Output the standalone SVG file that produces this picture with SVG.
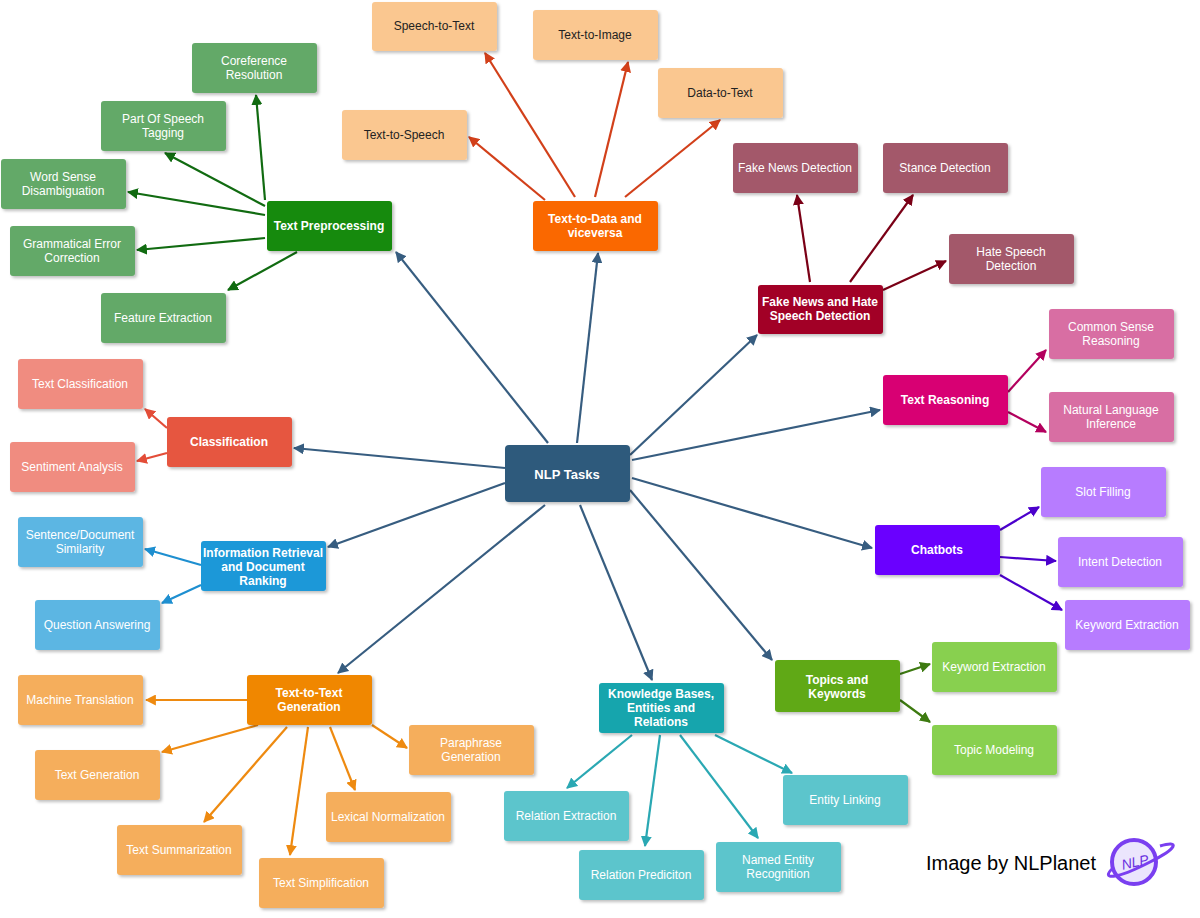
<svg xmlns="http://www.w3.org/2000/svg" width="1200" height="918" viewBox="0 0 1200 918">
<style>
text{font-family:"Liberation Sans",Arial,sans-serif;fill:#fff;text-anchor:middle}
.m{font-size:12px;font-weight:bold}
.l{font-size:12px}
rect{filter:url(#sh)}
line{stroke-width:2.2}
</style>
<defs>
<filter id="sh" x="-10%" y="-10%" width="130%" height="140%"><feDropShadow dx="2" dy="2" stdDeviation="1.5" flood-color="#000" flood-opacity="0.25"/></filter>
<marker id="a0" viewBox="0 0 10 10" refX="9" refY="5" markerWidth="5" markerHeight="5" orient="auto"><path d="M0,0L10,5L0,10z" fill="#375d80"/></marker>
<marker id="a1" viewBox="0 0 10 10" refX="9" refY="5" markerWidth="5" markerHeight="5" orient="auto"><path d="M0,0L10,5L0,10z" fill="#116b11"/></marker>
<marker id="a2" viewBox="0 0 10 10" refX="9" refY="5" markerWidth="5" markerHeight="5" orient="auto"><path d="M0,0L10,5L0,10z" fill="#d2401a"/></marker>
<marker id="a3" viewBox="0 0 10 10" refX="9" refY="5" markerWidth="5" markerHeight="5" orient="auto"><path d="M0,0L10,5L0,10z" fill="#7a0016"/></marker>
<marker id="a4" viewBox="0 0 10 10" refX="9" refY="5" markerWidth="5" markerHeight="5" orient="auto"><path d="M0,0L10,5L0,10z" fill="#b3005e"/></marker>
<marker id="a5" viewBox="0 0 10 10" refX="9" refY="5" markerWidth="5" markerHeight="5" orient="auto"><path d="M0,0L10,5L0,10z" fill="#4b00cc"/></marker>
<marker id="a6" viewBox="0 0 10 10" refX="9" refY="5" markerWidth="5" markerHeight="5" orient="auto"><path d="M0,0L10,5L0,10z" fill="#3d7a10"/></marker>
<marker id="a7" viewBox="0 0 10 10" refX="9" refY="5" markerWidth="5" markerHeight="5" orient="auto"><path d="M0,0L10,5L0,10z" fill="#2aa8b3"/></marker>
<marker id="a8" viewBox="0 0 10 10" refX="9" refY="5" markerWidth="5" markerHeight="5" orient="auto"><path d="M0,0L10,5L0,10z" fill="#ee8a10"/></marker>
<marker id="a9" viewBox="0 0 10 10" refX="9" refY="5" markerWidth="5" markerHeight="5" orient="auto"><path d="M0,0L10,5L0,10z" fill="#1e8fd0"/></marker>
<marker id="a10" viewBox="0 0 10 10" refX="9" refY="5" markerWidth="5" markerHeight="5" orient="auto"><path d="M0,0L10,5L0,10z" fill="#e34d38"/></marker>
</defs>
<rect width="1200" height="918" fill="#fff" style="filter:none"/>
<g id="connectors">
<g stroke="#375d80" marker-end="url(#a0)">
<line x1="548" y1="443" x2="396" y2="252"/><line x1="577" y1="443" x2="598" y2="253"/><line x1="630" y1="455" x2="757" y2="335"/><line x1="632" y1="460" x2="880" y2="410"/><line x1="632" y1="478" x2="872" y2="548"/><line x1="630" y1="490" x2="772" y2="660"/><line x1="580" y1="505" x2="652" y2="680"/><line x1="545" y1="505" x2="338" y2="673"/><line x1="505" y1="483" x2="328" y2="547"/><line x1="505" y1="468" x2="294" y2="448"/>
</g>
<g stroke="#116b11" marker-end="url(#a1)">
<line x1="265" y1="200" x2="256" y2="95"/><line x1="265" y1="206" x2="165" y2="153"/><line x1="265" y1="215" x2="128" y2="192"/><line x1="265" y1="238" x2="137" y2="250"/><line x1="297" y1="252" x2="228" y2="290"/>
</g>
<g stroke="#d2401a" marker-end="url(#a2)">
<line x1="575" y1="197" x2="485" y2="53"/><line x1="595" y1="197" x2="628" y2="62"/><line x1="625" y1="197" x2="720" y2="120"/><line x1="545" y1="200" x2="469" y2="137"/>
</g>
<g stroke="#7a0016" marker-end="url(#a3)">
<line x1="810" y1="282" x2="797" y2="195"/><line x1="850" y1="282" x2="913" y2="195"/><line x1="883" y1="290" x2="946" y2="261"/>
</g>
<g stroke="#b3005e" marker-end="url(#a4)">
<line x1="1008" y1="392" x2="1046" y2="350"/><line x1="1008" y1="412" x2="1046" y2="432"/>
</g>
<g stroke="#4b00cc" marker-end="url(#a5)">
<line x1="1000" y1="530" x2="1039" y2="507"/><line x1="1000" y1="557" x2="1056" y2="561"/><line x1="1000" y1="575" x2="1062" y2="610"/>
</g>
<g stroke="#3d7a10" marker-end="url(#a6)">
<line x1="900" y1="674" x2="930" y2="664"/><line x1="900" y1="700" x2="930" y2="722"/>
</g>
<g stroke="#2aa8b3" marker-end="url(#a7)">
<line x1="632" y1="735" x2="567" y2="788"/><line x1="660" y1="735" x2="645" y2="846"/><line x1="680" y1="735" x2="758" y2="838"/><line x1="715" y1="735" x2="792" y2="773"/>
</g>
<g stroke="#ee8a10" marker-end="url(#a8)">
<line x1="247" y1="700" x2="146" y2="700"/><line x1="258" y1="725" x2="162" y2="752"/><line x1="287" y1="727" x2="204" y2="822"/><line x1="308" y1="727" x2="290" y2="855"/><line x1="330" y1="727" x2="355" y2="790"/><line x1="372" y1="725" x2="407" y2="748"/>
</g>
<g stroke="#1e8fd0" marker-end="url(#a9)">
<line x1="201" y1="565" x2="145" y2="549"/><line x1="201" y1="585" x2="162" y2="603"/>
</g>
<g stroke="#e34d38" marker-end="url(#a10)">
<line x1="167" y1="428" x2="145" y2="409"/><line x1="167" y1="453" x2="137" y2="461"/>
</g>
</g>
<g id="nlp-tasks"><rect x="505" y="445" width="125" height="57" rx="4" fill="#2e5a7c"/><text class="m" x="567" y="479" style="font-size:13px">NLP Tasks</text></g>
<g id="text-preprocessing"><rect x="267" y="201" width="125" height="50" rx="3" fill="#138a07"/><text class="m" x="329" y="230">Text Preprocessing</text></g>
<g id="text-to-data"><rect x="533" y="201" width="125" height="50" rx="3" fill="#fa6800"/><text class="m" x="595" y="223">Text-to-Data and</text><text class="m" x="595" y="237">viceversa</text></g>
<g id="fake-news"><rect x="758" y="285" width="125" height="49" rx="3" fill="#a20025"/><text class="m" x="820" y="306">Fake News and Hate</text><text class="m" x="820" y="320">Speech Detection</text></g>
<g id="text-reasoning"><rect x="883" y="375" width="125" height="50" rx="3" fill="#d80073"/><text class="m" x="945" y="404">Text Reasoning</text></g>
<g id="chatbots"><rect x="875" y="525" width="125" height="50" rx="3" fill="#6a00ff"/><text class="m" x="937" y="554">Chatbots</text></g>
<g id="topics"><rect x="775" y="660" width="125" height="52" rx="3" fill="#60a917"/><text class="m" x="837" y="684">Topics and</text><text class="m" x="837" y="698">Keywords</text></g>
<g id="knowledge-bases"><rect x="599" y="683" width="125" height="50" rx="3" fill="#15a5ad"/><text class="m" x="661" y="698">Knowledge Bases,</text><text class="m" x="661" y="712">Entities and</text><text class="m" x="661" y="726">Relations</text></g>
<g id="text-to-text"><rect x="247" y="675" width="125" height="50" rx="3" fill="#f08705"/><text class="m" x="309" y="697">Text-to-Text</text><text class="m" x="309" y="711">Generation</text></g>
<g id="information-retrieval"><rect x="201" y="541" width="125" height="50" rx="3" fill="#1b98d8"/><text class="m" x="263" y="557">Information Retrieval</text><text class="m" x="263" y="571">and Document</text><text class="m" x="263" y="585">Ranking</text></g>
<g id="classification"><rect x="167" y="417" width="125" height="50" rx="3" fill="#e6563f"/><text class="m" x="229" y="446">Classification</text></g>

<g id="coreference"><rect x="192" y="43" width="125" height="50" rx="3" fill="#64a968"/><text class="l" x="254" y="65">Coreference</text><text class="l" x="254" y="79">Resolution</text></g>
<g id="pos"><rect x="101" y="101" width="125" height="50" rx="3" fill="#64a968"/><text class="l" x="163" y="123">Part Of Speech</text><text class="l" x="163" y="137">Tagging</text></g>
<g id="wsd"><rect x="1" y="159" width="125" height="50" rx="3" fill="#64a968"/><text class="l" x="63" y="181">Word Sense</text><text class="l" x="63" y="195">Disambiguation</text></g>
<g id="gec"><rect x="10" y="226" width="125" height="50" rx="3" fill="#64a968"/><text class="l" x="72" y="248">Grammatical Error</text><text class="l" x="72" y="262">Correction</text></g>
<g id="feature-extraction"><rect x="101" y="293" width="125" height="50" rx="3" fill="#64a968"/><text class="l" x="163" y="322">Feature Extraction</text></g>

<g id="speech-to-text"><rect x="372" y="2" width="125" height="49" rx="3" fill="#fac790"/><text class="l" x="434" y="30" style="fill:#222">Speech-to-Text</text></g>
<g id="text-to-image"><rect x="533" y="10" width="125" height="50" rx="3" fill="#fac790"/><text class="l" x="595" y="39" style="fill:#222">Text-to-Image</text></g>
<g id="data-to-text"><rect x="658" y="68" width="125" height="50" rx="3" fill="#fac790"/><text class="l" x="720" y="97" style="fill:#222">Data-to-Text</text></g>
<g id="text-to-speech"><rect x="342" y="110" width="125" height="50" rx="3" fill="#fac790"/><text class="l" x="404" y="139" style="fill:#222">Text-to-Speech</text></g>

<g id="fake-news-detection"><rect x="733" y="143" width="125" height="50" rx="3" fill="#a3596a"/><text class="l" x="795" y="172">Fake News Detection</text></g>
<g id="stance-detection"><rect x="883" y="143" width="125" height="50" rx="3" fill="#a3596a"/><text class="l" x="945" y="172">Stance Detection</text></g>
<g id="hate-speech"><rect x="949" y="234" width="125" height="50" rx="3" fill="#a3596a"/><text class="l" x="1011" y="256">Hate Speech</text><text class="l" x="1011" y="270">Detection</text></g>

<g id="common-sense"><rect x="1049" y="309" width="125" height="50" rx="3" fill="#d86ea3"/><text class="l" x="1111" y="331">Common Sense</text><text class="l" x="1111" y="345">Reasoning</text></g>
<g id="nli"><rect x="1049" y="392" width="125" height="50" rx="3" fill="#d86ea3"/><text class="l" x="1111" y="414">Natural Language</text><text class="l" x="1111" y="428">Inference</text></g>

<g id="slot-filling"><rect x="1041" y="467" width="125" height="50" rx="3" fill="#b77bff"/><text class="l" x="1103" y="496">Slot Filling</text></g>
<g id="intent-detection"><rect x="1058" y="537" width="125" height="50" rx="3" fill="#b77bff"/><text class="l" x="1120" y="566">Intent Detection</text></g>
<g id="keyword-extraction-chat"><rect x="1065" y="600" width="125" height="50" rx="3" fill="#b77bff"/><text class="l" x="1127" y="629">Keyword Extraction</text></g>

<g id="keyword-extraction"><rect x="932" y="642" width="125" height="50" rx="3" fill="#88d050"/><text class="l" x="994" y="671">Keyword Extraction</text></g>
<g id="topic-modeling"><rect x="932" y="725" width="125" height="50" rx="3" fill="#88d050"/><text class="l" x="994" y="754">Topic Modeling</text></g>

<g id="relation-extraction"><rect x="504" y="791" width="125" height="50" rx="3" fill="#5cc5cc"/><text class="l" x="566" y="820">Relation Extraction</text></g>
<g id="relation-prediction"><rect x="579" y="850" width="125" height="50" rx="3" fill="#5cc5cc"/><text class="l" x="641" y="879">Relation Prediciton</text></g>
<g id="ner"><rect x="716" y="842" width="125" height="50" rx="3" fill="#5cc5cc"/><text class="l" x="778" y="864">Named Entity</text><text class="l" x="778" y="878">Recognition</text></g>
<g id="entity-linking"><rect x="783" y="775" width="125" height="50" rx="3" fill="#5cc5cc"/><text class="l" x="845" y="804">Entity Linking</text></g>

<g id="machine-translation"><rect x="18" y="675" width="125" height="50" rx="3" fill="#f5ae5c"/><text class="l" x="80" y="704">Machine Translation</text></g>
<g id="text-generation"><rect x="35" y="750" width="125" height="50" rx="3" fill="#f5ae5c"/><text class="l" x="97" y="779">Text Generation</text></g>
<g id="text-summarization"><rect x="117" y="825" width="125" height="50" rx="3" fill="#f5ae5c"/><text class="l" x="179" y="854">Text Summarization</text></g>
<g id="text-simplification"><rect x="259" y="858" width="125" height="50" rx="3" fill="#f5ae5c"/><text class="l" x="321" y="887">Text Simplification</text></g>
<g id="lexical-normalization"><rect x="326" y="792" width="125" height="50" rx="3" fill="#f5ae5c"/><text class="l" x="388" y="821">Lexical Normalization</text></g>
<g id="paraphrase-generation"><rect x="409" y="725" width="125" height="50" rx="3" fill="#f5ae5c"/><text class="l" x="471" y="747">Paraphrase</text><text class="l" x="471" y="761">Generation</text></g>

<g id="sentence-similarity"><rect x="18" y="517" width="125" height="50" rx="3" fill="#5cb6e3"/><text class="l" x="80" y="539">Sentence/Document</text><text class="l" x="80" y="553">Similarity</text></g>
<g id="question-answering"><rect x="35" y="600" width="125" height="50" rx="3" fill="#5cb6e3"/><text class="l" x="97" y="629">Question Answering</text></g>

<g id="text-classification"><rect x="18" y="359" width="125" height="50" rx="3" fill="#f08c80"/><text class="l" x="80" y="388">Text Classification</text></g>
<g id="sentiment-analysis"><rect x="10" y="442" width="125" height="50" rx="3" fill="#f08c80"/><text class="l" x="72" y="471">Sentiment Analysis</text></g>

<g id="credit">
<text x="1011" y="870" style="fill:#000;font-size:20px">Image by NLPlanet</text>
<circle cx="1134" cy="862" r="22" fill="#ebe5fd" stroke="#7a3ff0" stroke-width="4"/>
<path d="M1113,868 C1100,880 1115,880 1150,862 C1178,848 1180,840 1160,846" fill="none" stroke="#7a3ff0" stroke-width="3"/>
<text x="1135" y="867" transform="rotate(-12 1135 862)" style="fill:#6a2fe0;font-size:14px;font-style:italic">NLP</text>
</g>
</svg>
